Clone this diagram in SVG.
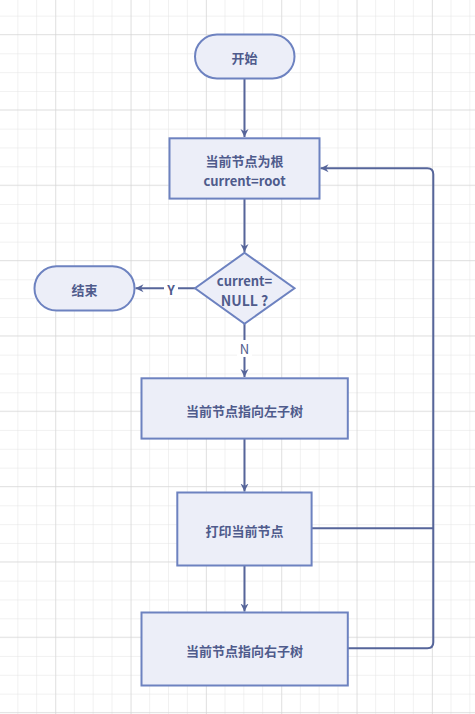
<svg xmlns="http://www.w3.org/2000/svg" width="475" height="714" viewBox="0 0 475 714">
<defs>
<pattern id="minor" patternUnits="userSpaceOnUse" x="-1.5" y="-3.2" width="18.833" height="18.833">
<path d="M0 0V18.833M0 0H18.833" fill="none" stroke="#e3e3e3" stroke-width="1"/>
</pattern>
<pattern id="major" patternUnits="userSpaceOnUse" x="-20" y="-41.33" width="75.33" height="75.33">
<path d="M0 0V75.33M0 0H75.33" fill="none" stroke="#d2d2d2" stroke-width="1"/>
</pattern>
<marker id="arr" markerWidth="10" markerHeight="10" refX="8" refY="5" orient="auto" markerUnits="userSpaceOnUse">
<path d="M0 1 L8 5 L0 9 L2.5 5 Z" fill="#56659a"/>
</marker>
<style>
.node{fill:#eceef8;stroke:#6d82c0;stroke-width:2}
.edge{fill:none;stroke:#56659a;stroke-width:2}
.t{font-family:"Noto Sans CJK SC","Liberation Sans",sans-serif;font-size:13px;font-weight:bold;fill:#4f5b8c;text-anchor:middle;dominant-baseline:central}
.big{font-size:14px}
.lbl{font-family:"Noto Sans CJK SC","Liberation Sans",sans-serif;font-size:13px;fill:#4f5b8c;text-anchor:middle;dominant-baseline:central}
</style>
</defs>
<rect width="475" height="714" fill="#ffffff"/>
<rect width="475" height="714" fill="url(#minor)"/>
<rect width="475" height="714" fill="url(#major)"/>
<g id="connectors">
<path class="edge" d="M244.5 79V137" marker-end="url(#arr)"/>
<path class="edge" d="M244.5 199V252" marker-end="url(#arr)"/>
<path class="edge" d="M195 288.3H135.5" marker-end="url(#arr)"/>
<path class="edge" d="M244.5 324V377" marker-end="url(#arr)"/>
<path class="edge" d="M244.5 439V491.5" marker-end="url(#arr)"/>
<path class="edge" d="M244.5 566V611.5" marker-end="url(#arr)"/>
<path class="edge" d="M312 528.3H433.3"/>
<path class="edge" d="M348 648.3H427.3Q433.3 648.3 433.3 642.3V174.3Q433.3 168.3 427.3 168.3H320.5" marker-end="url(#arr)"/>
<rect x="164" y="281" width="14" height="16" fill="#ffffff"/>
<text class="t" x="171" y="289.5">Y</text>
<rect x="237" y="340" width="15" height="17" fill="#ffffff"/>
<text class="lbl" x="244.5" y="348.5">N</text>
</g>
<g id="start">
<rect class="node" x="195" y="34.5" width="99.5" height="44" rx="22"/>
<text class="t" x="244.5" y="57">开始</text>
</g>
<g id="init">
<rect class="node" x="169.5" y="138.3" width="150" height="60.3"/>
<text class="t" x="244.5" y="160">当前节点为根</text>
<text class="t" x="244.5" y="180">current=root</text>
</g>
<g id="cond">
<path class="node" d="M244.5 252.8L294.5 288.3L244.5 323.8L195 288.3Z"/>
<text class="t" x="244.5" y="280.5">current=</text>
<text class="t big" x="244.5" y="299.5">NULL ?</text>
</g>
<g id="end">
<rect class="node" x="34.5" y="266.3" width="100" height="44.3" rx="22"/>
<text class="t" x="84.5" y="289">结束</text>
</g>
<g id="left">
<rect class="node" x="141.5" y="378.3" width="206.3" height="60.3"/>
<text class="t" x="244.5" y="410">当前节点指向左子树</text>
</g>
<g id="print">
<rect class="node" x="177.3" y="492.5" width="134.3" height="73"/>
<text class="t" x="244.5" y="530">打印当前节点</text>
</g>
<g id="right">
<rect class="node" x="141.5" y="612.5" width="206.3" height="73"/>
<text class="t" x="244.5" y="650">当前节点指向右子树</text>
</g>
</svg>
